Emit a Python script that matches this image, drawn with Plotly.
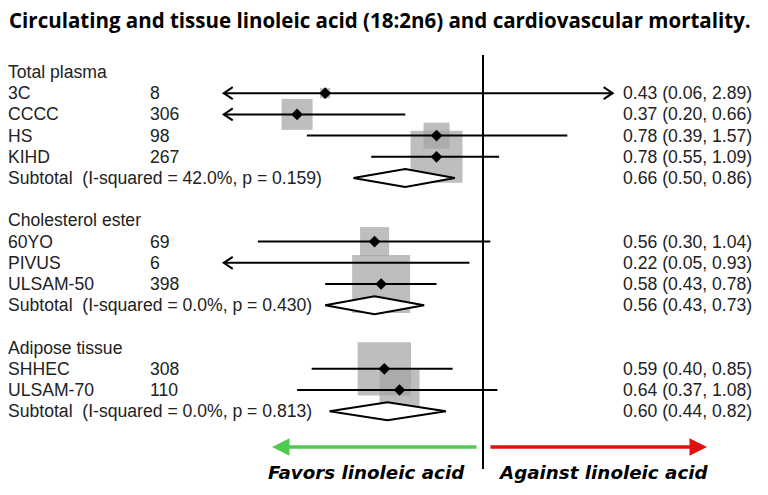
import math
import plotly.graph_objects as go

# ---------------- data ----------------
groups = ["Total plasma", "Cholesterol ester", "Adipose tissue"]
studies = ["3C", "CCCC", "HS", "KIHD", "60YO", "PIVUS", "ULSAM-50", "SHHEC", "ULSAM-70"]
study_group = [0, 0, 0, 0, 1, 1, 1, 2, 2]
events = [8, 306, 98, 267, 69, 6, 398, 308, 110]
rr = [0.43, 0.37, 0.78, 0.78, 0.56, 0.22, 0.58, 0.59, 0.64]
rr_lo = [0.06, 0.20, 0.39, 0.55, 0.30, 0.05, 0.43, 0.40, 0.37]
rr_hi = [2.89, 0.66, 1.57, 1.09, 1.04, 0.93, 0.78, 0.85, 1.08]
weights = [2.3, 21.6, 15.2, 60.9, 19.0, 5.2, 75.8, 64.0, 36.0]

sub_rr = [0.66, 0.56, 0.60]
sub_lo = [0.50, 0.43, 0.44]
sub_hi = [0.86, 0.73, 0.82]
sub_i2 = ["42.0%", "0.0%", "0.0%"]
sub_p = ["0.159", "0.430", "0.813"]

clip_lo, clip_hi = 0.25, 2.0
title = "Circulating and tissue linoleic acid (18:2n6) and cardiovascular mortality."
left_label = "Favors linoleic acid"
right_label = "Against linoleic acid"

# ---------------- layout constants ----------------
W, H = 768, 495
PX_DEC = 430.6          # pixels per decade on log axis
X_ONE = 483             # pixel of RR = 1
ROW0, ROWH = 72.0, 21.2  # pixel of first row and row height
xr = [-X_ONE / PX_DEC, (W - X_ONE) / PX_DEC]
yr = [(H - ROW0) / ROWH, -ROW0 / ROWH]
TXT = "#222222"
FONT = "Liberation Sans, Arial, sans-serif"


def px2paper_x(p):
    return p / W


def px2paper_y(p):
    return 1 - p / H


# assign rows
row = 0
hdr_rows, study_rows, sub_rows = [], [], []
for g in range(len(groups)):
    hdr_rows.append(row)
    row += 1
    for i, sg in enumerate(study_group):
        if sg == g:
            study_rows.append(row)
            row += 1
    sub_rows.append(row)
    row += 2

fig = go.Figure()

# weight boxes
bx, by, bs = [], [], []
for i in range(len(studies)):
    if clip_lo <= rr[i] <= clip_hi:
        bx.append(rr[i]); by.append(study_rows[i]); bs.append(6.66 * math.sqrt(weights[i]))
fig.add_trace(go.Scatter(x=bx, y=by, mode="markers",
                         marker=dict(symbol="square", size=bs, color="#a3a3a3", line=dict(width=0)),
                         hoverinfo="skip", showlegend=False))

# CI lines and arrows
dxa = 9 / PX_DEC
dya = 6 / ROWH
for i in range(len(studies)):
    y = study_rows[i]
    a = max(rr_lo[i], clip_lo)
    b = min(rr_hi[i], clip_hi)
    fig.add_trace(go.Scatter(x=[a, b], y=[y, y], mode="lines",
                             line=dict(color="black", width=2), hoverinfo="skip", showlegend=False))
    if rr_lo[i] < clip_lo:
        xa = 10 ** (math.log10(clip_lo) + dxa)
        fig.add_trace(go.Scatter(x=[xa, clip_lo, xa], y=[y - dya, y, y + dya], mode="lines",
                                 line=dict(color="black", width=2), hoverinfo="skip", showlegend=False))
    if rr_hi[i] > clip_hi:
        xa = 10 ** (math.log10(clip_hi) - dxa)
        fig.add_trace(go.Scatter(x=[xa, clip_hi, xa], y=[y - dya, y, y + dya], mode="lines",
                                 line=dict(color="black", width=2), hoverinfo="skip", showlegend=False))

# point estimates
px_, py_ = [], []
for i in range(len(studies)):
    if clip_lo <= rr[i] <= clip_hi:
        px_.append(rr[i]); py_.append(study_rows[i])
fig.add_trace(go.Scatter(x=px_, y=py_, mode="markers",
                         marker=dict(symbol="diamond", size=9, color="black"),
                         hoverinfo="skip", showlegend=False))

# subtotal diamonds
dh = 9 / ROWH
for g in range(len(groups)):
    y = sub_rows[g]
    fig.add_trace(go.Scatter(x=[sub_lo[g], sub_rr[g], sub_hi[g], sub_rr[g], sub_lo[g]],
                             y=[y, y - dh, y, y + dh, y], mode="lines", fill="toself",
                             fillcolor="white", line=dict(color="black", width=2),
                             hoverinfo="skip", showlegend=False))

# null line
fig.add_trace(go.Scatter(x=[1, 1], y=[(55 - ROW0) / ROWH, (469 - ROW0) / ROWH], mode="lines",
                         line=dict(color="black", width=2), hoverinfo="skip", showlegend=False))

ann = []
tf = dict(family=FONT, size=17.6, color=TXT)
XL, XN, XR = 6, 148, 621
for g in range(len(groups)):
    ann.append(dict(x=px2paper_x(XL), y=hdr_rows[g], xref="paper", yref="y", text=groups[g],
                    xanchor="left", yanchor="middle", showarrow=False, font=tf))
    ann.append(dict(x=px2paper_x(XL), y=sub_rows[g], xref="paper", yref="y",
                    text="Subtotal\u00a0 (I-squared = %s, p = %s)" % (sub_i2[g], sub_p[g]),
                    xanchor="left", yanchor="middle", showarrow=False, font=tf))
    ann.append(dict(x=px2paper_x(XR), y=sub_rows[g], xref="paper", yref="y",
                    text="%.2f (%.2f, %.2f)" % (sub_rr[g], sub_lo[g], sub_hi[g]),
                    xanchor="left", yanchor="middle", showarrow=False, font=tf))
for i in range(len(studies)):
    y = study_rows[i]
    ann.append(dict(x=px2paper_x(XL), y=y, xref="paper", yref="y", text=studies[i],
                    xanchor="left", yanchor="middle", showarrow=False, font=tf))
    ann.append(dict(x=px2paper_x(XN), y=y, xref="paper", yref="y", text=str(events[i]),
                    xanchor="left", yanchor="middle", showarrow=False, font=tf))
    ann.append(dict(x=px2paper_x(XR), y=y, xref="paper", yref="y",
                    text="%.2f (%.2f, %.2f)" % (rr[i], rr_lo[i], rr_hi[i]),
                    xanchor="left", yanchor="middle", showarrow=False, font=tf))

# title
ann.append(dict(x=px2paper_x(380), y=px2paper_y(20), xref="paper", yref="paper",
                text="<b>%s</b>" % title, xanchor="center", yanchor="middle", showarrow=False,
                font=dict(family="Open Sans, sans-serif", size=20.5, color="black")))

# direction arrows
ann.append(dict(x=px2paper_x(272), y=px2paper_y(447), xref="paper", yref="paper",
                ax=206, ay=0, axref="pixel", ayref="pixel", text="", showarrow=True,
                arrowhead=2, arrowsize=1, arrowwidth=3.5, arrowcolor="#4fcb52"))
ann.append(dict(x=px2paper_x(707), y=px2paper_y(447), xref="paper", yref="paper",
                ax=-218, ay=0, axref="pixel", ayref="pixel", text="", showarrow=True,
                arrowhead=2, arrowsize=1, arrowwidth=3.5, arrowcolor="#e0100c"))
bf = dict(family="DejaVu Sans, sans-serif", size=18.3, color="black")
ann.append(dict(x=px2paper_x(467), y=px2paper_y(472), xref="paper", yref="paper",
                text="<b><i>%s</i></b>" % left_label, xanchor="right", yanchor="middle",
                showarrow=False, font=bf))
ann.append(dict(x=px2paper_x(496), y=px2paper_y(472), xref="paper", yref="paper",
                text="<b><i>%s</i></b>" % right_label, xanchor="left", yanchor="middle",
                showarrow=False, font=bf))

fig.update_layout(
    width=W, height=H, margin=dict(l=0, r=0, t=0, b=0),
    paper_bgcolor="white", plot_bgcolor="white",
    xaxis=dict(type="log", range=xr, visible=False, fixedrange=True),
    yaxis=dict(range=yr, visible=False, fixedrange=True),
    annotations=ann, showlegend=False,
)
fig.write_html("out.html")
